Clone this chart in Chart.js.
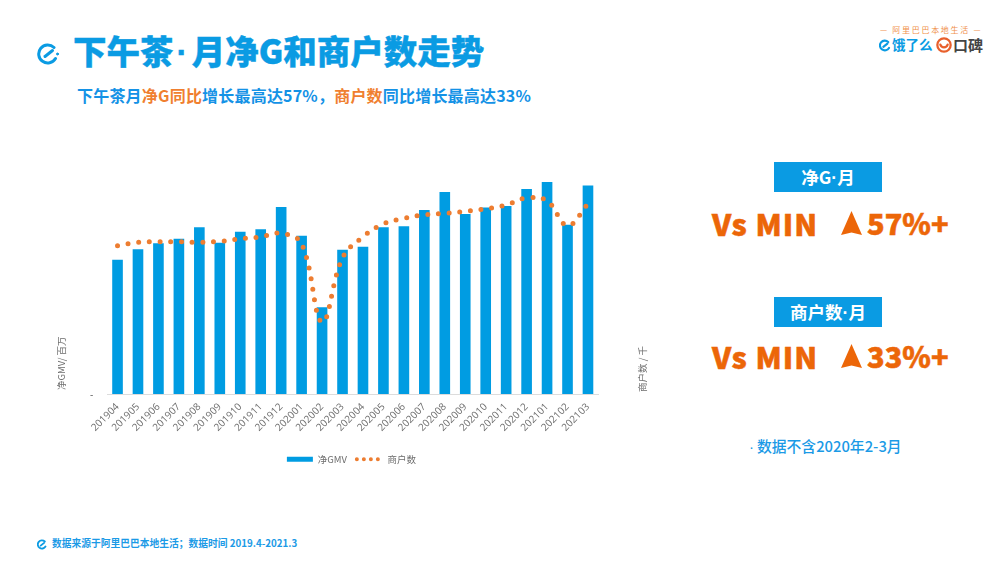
<!DOCTYPE html>
<html>
<head>
<meta charset="utf-8">
<script src="https://cdn.jsdelivr.net/npm/chart.js@4"></script>
<style>
  html, body { margin: 0; padding: 0; background: #fff; }
  body { width: 1000px; height: 563px; position: relative; overflow: hidden; font-family: "Noto Sans CJK SC", sans-serif; }
  .t { position: absolute; white-space: nowrap; line-height: 1; }
  .o { color: #f07f2f; }
  .dot { font-family: "Liberation Sans", sans-serif; }
  .box { position: absolute; left: 774px; width: 108px; height: 30px; background: #0a9be3; color: #fff; font-weight: 700; font-size: 17.5px; line-height: 29px; text-align: center; }
  .big { color: #ec6608; font-weight: 900; font-size: 30px; -webkit-text-stroke: 0.5px #ec6608; }
  .tri { position: absolute; left: 841px; width: 21px; height: 24px; background: #ec6608; clip-path: polygon(50% 0, 100% 100%, 50% 90%, 0 100%); }
  #wrap { position: absolute; left: 43px; top: 130px; width: 617px; height: 350px; }
</style>
</head>
<body>

<svg style="position:absolute;left:37px;top:42px" width="24" height="24" viewBox="0 0 24 24" fill="none" stroke="#0a9be3" stroke-width="3" stroke-linecap="round">
  <path d="M18.5 16.5A9 9 0 1 1 17 5.5"/>
  <path d="M8 14.5L15.5 8.5"/>
  <circle cx="20.5" cy="12" r="1" fill="#0a9be3" stroke-width="1"/>
</svg>
<div class="t" style="left:73px;top:33px;font-size:33.5px;font-weight:900;color:#0a9be3;-webkit-text-stroke:0.4px #0a9be3">下午茶<span class="dot" style="letter-spacing:4px;margin-left:3px">·</span>月净G和商户数走势</div>
<div class="t" style="left:77px;top:87px;font-size:16px;font-weight:700;color:#1492e6;letter-spacing:0.2px">下午茶月<span class="o">净G同比</span>增长最高达57%，<span class="o">商户数</span>同比增长最高达33%</div>

<div class="t" style="left:880px;top:26px;font-size:8px;color:#f0914a;letter-spacing:1.7px">— 阿里巴巴本地生活 —</div>
<svg style="position:absolute;left:879px;top:39px" width="13" height="13" viewBox="0 0 24 24" fill="none" stroke="#0a9be3" stroke-width="4" stroke-linecap="round">
  <path d="M18.5 16.5A9 9 0 1 1 17 5.5"/><path d="M8 14.5L15.5 8.5"/>
</svg>
<div class="t" style="left:892px;top:38px;font-size:13.5px;font-weight:700;color:#0a9be3">饿了么</div>
<svg style="position:absolute;left:936px;top:37px" width="16" height="16" viewBox="0 0 24 24" fill="none" stroke="#e8602c" stroke-width="3.4" stroke-linecap="round">
  <circle cx="12" cy="12" r="10"/><path d="M6.5 11.5A5.8 5.8 0 0 0 17.5 11.5"/>
</svg>
<div class="t" style="left:953px;top:37px;font-size:15px;font-weight:700;color:#444">口碑</div>

<div id="wrap"><canvas id="trend-chart"></canvas></div>

<div class="box" style="top:162px">净G<span class="dot">·</span>月</div>
<div class="t big" style="left:712px;top:208px;letter-spacing:0.9px">Vs MIN</div>
<div class="tri" style="top:211px"></div>
<div class="t big" style="left:867px;top:208px;font-size:29px">57%+</div>

<div class="box" style="top:297px">商户数<span class="dot">·</span>月</div>
<div class="t big" style="left:712px;top:341px;letter-spacing:0.9px">Vs MIN</div>
<div class="tri" style="top:344px"></div>
<div class="t big" style="left:867px;top:341px;font-size:29px">33%+</div>

<div class="t" style="left:749px;top:439px;font-size:14.8px;font-weight:500;color:#1b9ae6"><span class="dot" style="margin-right:3px">·</span>数据不含2020年2-3月</div>

<svg style="position:absolute;left:37px;top:539px" width="11" height="11" viewBox="0 0 24 24" fill="none" stroke="#0a9be3" stroke-width="4" stroke-linecap="round">
  <path d="M18.5 16.5A9 9 0 1 1 17 5.5"/><path d="M8 14.5L15.5 8.5"/>
</svg>
<div class="t" style="left:52px;top:539px;font-size:9.75px;font-weight:700;color:#1b9ae6">数据来源于阿里巴巴本地生活；数据时间 2019.4-2021.3</div>

<script>
var months = ["201904", "201905", "201906", "201907", "201908", "201909", "201910", "201911", "201912", "202001", "202002", "202003",
              "202004", "202005", "202006", "202007", "202008", "202009", "202010", "202011", "202012", "202101", "202102", "202103"];
var gmv = [134.5, 145, 151, 155.5, 167, 151.5, 162.5, 165, 187.5, 158.5, 87, 144.5,
           147.5, 167, 168, 184.5, 202.5, 180.5, 187, 188.5, 205.5, 212.5, 169.5, 209];
var merchants = [148.5, 152, 152.5, 152.5, 152, 153, 155.5, 157.5, 161, 150.5, 72, 136.5,
                 157.5, 170.5, 176, 179.5, 181, 183, 185.5, 189.5, 196.5, 193.5, 169, 190.5];

var labelGrey = "#6e6e6e";
var cjkFont = '"Noto Sans CJK SC", sans-serif';

// both axis titles read bottom to top, chart.js would turn the right one the other way
var axisNotes = {
    id: "axisNotes",
    afterDraw: function (chart) {
        var c = chart.ctx;
        [["净GMV/ 百万", 18, 260], ["商户数 / 千", 599, 262]].forEach(function (n) {
            c.save();
            c.translate(n[1], n[2]);
            c.rotate(-Math.PI / 2);
            c.font = "9.5px " + cjkFont;
            c.fillStyle = labelGrey;
            c.textBaseline = "middle";
            c.fillText(n[0], 0, 0);
            c.restore();
        });
    }
};

var trend = new Chart(document.getElementById("trend-chart"), {
    type: "bar",
    data: {
        labels: months,
        datasets: [
            {
                type: "line",
                label: "商户数",
                data: merchants,
                yAxisID: "y1",
                order: 1,
                borderColor: "#ed7d31",
                backgroundColor: "#ed7d31",
                borderWidth: 5,
                borderDash: [0, 10.7],
                borderCapStyle: "round",
                tension: 0.4,
                pointRadius: 0
            },
            {
                label: "净GMV",
                data: gmv,
                yAxisID: "y",
                order: 2,
                backgroundColor: "#009ce2",
                categoryPercentage: 1,
                barPercentage: 0.52
            }
        ]
    },

    //Config options
    options: {
        responsive: true,
        maintainAspectRatio: false,
        animation: false,
        layout: { padding: { top: 24.5, right: 0, bottom: 6, left: 0 } },
        plugins: {
            legend: {
                position: "bottom",
                labels: {
                    color: labelGrey,
                    font: { family: cjkFont, size: 9.5 },
                    usePointStyle: true,
                    boxHeight: 5,
                    boxWidth: 25,
                    pointStyleWidth: 26,
                    padding: 10,
                    generateLabels: function (chart) {
                        return [
                            { text: "净GMV", pointStyle: "line", strokeStyle: "#009ce2", fillStyle: "#009ce2", lineWidth: 5, lineDash: [], fontColor: labelGrey, datasetIndex: 1 },
                            { text: "商户数", pointStyle: "line", strokeStyle: "#ed7d31", fillStyle: "#ed7d31", lineWidth: 4, lineDash: [0, 7], lineCap: "round", fontColor: labelGrey, datasetIndex: 0 }
                        ];
                    }
                }
            },
            tooltip: { enabled: false }
        },
        scales: {
            x: {
                grid: { display: false, drawTicks: false },
                border: { display: true, color: "#dcdcdc", width: 1 },
                ticks: {
                    color: labelGrey,
                    font: { family: '"Open Sans", sans-serif', size: 10 },
                    maxRotation: 45,
                    minRotation: 45,
                    autoSkip: false,
                    padding: 7
                },
                afterFit: function (scale) { scale.height = 50.5; }
            },
            y: {
                min: 0,
                max: 240,
                grid: { display: false, drawTicks: false },
                border: { display: false },
                ticks: {
                    stepSize: 240,
                    color: "#444",
                    padding: 14,
                    font: { family: cjkFont, size: 9.5 },
                    callback: function (v) { return v === 0 ? "-" : ""; }
                },
                afterFit: function (scale) { scale.width = 64.3; }
            },
            y1: {
                position: "right",
                min: 0,
                max: 240,
                grid: { display: false, drawTicks: false },
                border: { display: false },
                ticks: { display: false },
                afterFit: function (scale) { scale.width = 61.8; }
            }
        }
    },
    plugins: [axisNotes]
});
</script>
</body>
</html>
